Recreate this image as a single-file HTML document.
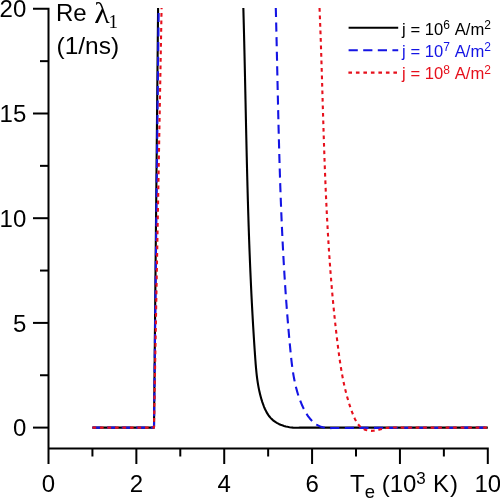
<!DOCTYPE html>
<html><head><meta charset="utf-8"><style>
html,body{margin:0;padding:0;background:#fff;}
body{width:500px;height:502px;overflow:hidden;}
svg{display:block;}
text{font-family:"Liberation Sans",Arial,sans-serif;}
</style></head><body>
<svg width="500" height="502" viewBox="0 0 500 502">
<defs><clipPath id="c"><rect x="49" y="8.0" width="445" height="440"/></clipPath></defs>
<g fill="none" stroke-linejoin="round" stroke-width="2.1" clip-path="url(#c)">
<path d="M92.43,427.60 L154.00,427.60 L158.10,7.00" stroke="#000"/>
<path d="M243.34,7.97 L243.39,9.76 L243.44,11.56 L243.49,13.35 L243.53,15.14 L243.58,16.93 L243.63,18.73 L243.68,20.52 L243.72,22.31 L243.77,24.10 L243.82,25.89 L243.86,27.68 L243.91,29.47 L243.95,31.27 L244.00,33.06 L244.04,34.85 L244.09,36.64 L244.13,38.43 L244.17,40.22 L244.22,42.01 L244.26,43.80 L244.30,45.59 L244.34,47.38 L244.38,49.17 L244.43,50.96 L244.47,52.75 L244.51,54.53 L244.55,56.32 L244.59,58.11 L244.63,59.90 L244.67,61.69 L244.71,63.48 L244.75,65.27 L244.79,67.06 L244.83,68.84 L244.87,70.63 L244.91,72.42 L244.95,74.21 L244.99,75.99 L245.02,77.78 L245.06,79.57 L245.10,81.36 L245.14,83.14 L245.18,84.93 L245.22,86.72 L245.25,88.51 L245.29,90.29 L245.33,92.08 L245.37,93.87 L245.41,95.65 L245.44,97.44 L245.48,99.23 L245.52,101.01 L245.56,102.80 L245.60,104.59 L245.63,106.37 L245.67,108.16 L245.71,109.94 L245.75,111.73 L245.79,113.52 L245.82,115.30 L245.86,117.09 L245.90,118.87 L245.94,120.66 L245.98,122.44 L246.01,124.23 L246.05,126.01 L246.09,127.80 L246.13,129.58 L246.17,131.37 L246.21,133.16 L246.25,134.94 L246.29,136.73 L246.33,138.51 L246.37,140.30 L246.41,142.08 L246.45,143.86 L246.49,145.65 L246.53,147.43 L246.57,149.22 L246.61,151.00 L246.65,152.79 L246.69,154.57 L246.73,156.36 L246.78,158.14 L246.82,159.93 L246.86,161.71 L246.90,163.50 L246.95,165.28 L246.99,167.06 L247.03,168.85 L247.08,170.63 L247.12,172.42 L247.17,174.20 L247.21,175.99 L247.26,177.77 L247.30,179.55 L247.35,181.34 L247.40,183.12 L247.44,184.91 L247.49,186.69 L247.54,188.48 L247.59,190.26 L247.63,192.04 L247.68,193.83 L247.73,195.61 L247.78,197.40 L247.83,199.18 L247.88,200.97 L247.94,202.75 L247.99,204.53 L248.04,206.32 L248.09,208.10 L248.15,209.89 L248.20,211.67 L248.26,213.46 L248.31,215.24 L248.37,217.02 L248.42,218.81 L248.48,220.59 L248.54,222.38 L248.59,224.16 L248.65,225.95 L248.71,227.73 L248.77,229.52 L248.83,231.30 L248.89,233.08 L248.95,234.87 L249.02,236.65 L249.08,238.44 L249.14,240.22 L249.21,242.01 L249.27,243.79 L249.34,245.58 L249.40,247.36 L249.47,249.15 L249.54,250.93 L249.61,252.72 L249.68,254.50 L249.75,256.29 L249.82,258.08 L249.89,259.86 L249.96,261.65 L250.03,263.43 L250.11,265.22 L250.18,267.00 L250.26,268.79 L250.33,270.57 L250.41,272.36 L250.49,274.15 L250.57,275.93 L250.65,277.72 L250.73,279.50 L250.81,281.29 L250.89,283.08 L250.97,284.86 L251.06,286.65 L251.14,288.44 L251.23,290.22 L251.31,292.01 L251.40,293.80 L251.49,295.58 L251.58,297.37 L251.67,299.16 L251.76,300.95 L251.85,302.73 L251.95,304.52 L252.04,306.31 L252.14,308.10 L252.23,309.88 L252.33,311.67 L252.43,313.46 L252.53,315.25 L252.63,317.04 L252.73,318.83 L252.83,320.61 L252.93,322.40 L253.04,324.19 L253.14,325.98 L253.25,327.77 L253.36,329.56 L253.47,331.35 L253.58,333.14 L253.69,334.93 L253.80,336.72 L253.92,338.51 L254.03,340.30 L254.15,342.09 L254.26,343.88 L254.38,345.67 L254.50,347.46 L254.62,349.25 L254.74,351.04 L254.87,352.83 L254.99,354.62 L255.12,356.41 L255.24,358.20 L255.37,360.00 L255.51,361.79 L255.64,363.58 L255.79,365.36 L255.94,367.15 L256.10,368.94 L256.27,370.72 L256.45,372.50 L256.65,374.28 L256.85,376.05 L257.07,377.82 L257.31,379.59 L257.56,381.35 L257.83,383.11 L258.12,384.87 L258.43,386.62 L258.76,388.36 L259.12,390.10 L259.50,391.83 L259.90,393.56 L260.33,395.27 L260.79,396.99 L261.27,398.69 L261.79,400.39 L262.33,402.08 L262.91,403.76 L263.52,405.43 L264.17,407.09 L264.87,408.72 L265.62,410.32 L266.42,411.88 L267.29,413.40 L268.24,414.87 L269.25,416.28 L270.35,417.62 L271.54,418.88 L272.83,420.06 L274.21,421.16 L275.69,422.17 L277.24,423.09 L278.86,423.93 L280.54,424.68 L282.27,425.35 L284.04,425.93 L285.83,426.42 L287.65,426.84 L289.47,427.18 L291.28,427.44 L293.09,427.62 L294.86,427.72 L296.60,427.75 L298.29,427.71 L299.93,427.60 L487.80,427.60" stroke="#000"/>
<path d="M92.43,427.60 L154.00,427.60 L158.70,7.00" stroke="#1414e4" stroke-dasharray="9.1 5.5"/>
<path d="M275.79,7.95 L275.84,9.73 L275.89,11.50 L275.93,13.28 L275.98,15.05 L276.02,16.83 L276.07,18.60 L276.11,20.37 L276.15,22.15 L276.20,23.92 L276.24,25.69 L276.28,27.47 L276.32,29.24 L276.37,31.01 L276.41,32.78 L276.45,34.56 L276.49,36.33 L276.53,38.10 L276.57,39.87 L276.62,41.64 L276.66,43.41 L276.70,45.18 L276.74,46.95 L276.78,48.72 L276.82,50.49 L276.86,52.26 L276.90,54.03 L276.94,55.80 L276.98,57.57 L277.02,59.34 L277.06,61.11 L277.09,62.88 L277.13,64.65 L277.17,66.42 L277.21,68.18 L277.25,69.95 L277.29,71.72 L277.33,73.49 L277.37,75.26 L277.41,77.02 L277.45,78.79 L277.49,80.56 L277.52,82.32 L277.56,84.09 L277.60,85.86 L277.64,87.63 L277.68,89.39 L277.72,91.16 L277.76,92.92 L277.80,94.69 L277.84,96.46 L277.88,98.22 L277.92,99.99 L277.96,101.75 L278.00,103.52 L278.04,105.28 L278.08,107.05 L278.12,108.81 L278.17,110.58 L278.21,112.34 L278.25,114.11 L278.29,115.87 L278.33,117.64 L278.38,119.40 L278.42,121.17 L278.46,122.93 L278.51,124.69 L278.55,126.46 L278.59,128.22 L278.64,129.98 L278.68,131.75 L278.73,133.51 L278.77,135.28 L278.82,137.04 L278.87,138.80 L278.91,140.57 L278.96,142.33 L279.01,144.09 L279.05,145.85 L279.10,147.62 L279.15,149.38 L279.20,151.14 L279.25,152.91 L279.30,154.67 L279.35,156.43 L279.40,158.19 L279.45,159.96 L279.51,161.72 L279.56,163.48 L279.61,165.24 L279.67,167.01 L279.72,168.77 L279.78,170.53 L279.83,172.29 L279.89,174.05 L279.95,175.82 L280.00,177.58 L280.06,179.34 L280.12,181.10 L280.18,182.86 L280.24,184.63 L280.30,186.39 L280.36,188.15 L280.42,189.91 L280.49,191.67 L280.55,193.43 L280.62,195.20 L280.68,196.96 L280.75,198.72 L280.81,200.48 L280.88,202.24 L280.95,204.01 L281.02,205.77 L281.09,207.53 L281.16,209.29 L281.23,211.05 L281.30,212.81 L281.37,214.58 L281.45,216.34 L281.52,218.10 L281.60,219.86 L281.68,221.62 L281.75,223.39 L281.83,225.15 L281.91,226.91 L281.99,228.67 L282.07,230.43 L282.16,232.20 L282.24,233.96 L282.32,235.72 L282.41,237.48 L282.49,239.24 L282.58,241.01 L282.67,242.77 L282.76,244.53 L282.85,246.29 L282.94,248.06 L283.03,249.82 L283.13,251.58 L283.22,253.34 L283.32,255.11 L283.41,256.87 L283.51,258.63 L283.61,260.39 L283.71,262.16 L283.81,263.92 L283.91,265.68 L284.02,267.45 L284.12,269.21 L284.23,270.97 L284.34,272.74 L284.44,274.50 L284.55,276.26 L284.67,278.03 L284.78,279.79 L284.89,281.55 L285.01,283.32 L285.12,285.08 L285.24,286.85 L285.36,288.61 L285.48,290.38 L285.60,292.14 L285.72,293.90 L285.85,295.67 L285.97,297.43 L286.10,299.20 L286.23,300.96 L286.35,302.73 L286.49,304.49 L286.62,306.26 L286.75,308.03 L286.89,309.79 L287.02,311.56 L287.16,313.32 L287.30,315.09 L287.44,316.86 L287.58,318.62 L287.73,320.39 L287.87,322.16 L288.02,323.92 L288.17,325.69 L288.32,327.46 L288.47,329.22 L288.62,330.99 L288.78,332.76 L288.93,334.53 L289.09,336.29 L289.25,338.06 L289.41,339.83 L289.57,341.60 L289.74,343.37 L289.91,345.14 L290.07,346.90 L290.24,348.67 L290.41,350.44 L290.59,352.21 L290.76,353.98 L290.94,355.75 L291.13,357.52 L291.32,359.28 L291.52,361.05 L291.73,362.81 L291.94,364.57 L292.17,366.33 L292.40,368.09 L292.65,369.84 L292.91,371.59 L293.19,373.34 L293.47,375.08 L293.78,376.82 L294.10,378.56 L294.44,380.29 L294.79,382.01 L295.17,383.73 L295.56,385.45 L295.98,387.15 L296.41,388.86 L296.87,390.55 L297.36,392.24 L297.87,393.93 L298.40,395.60 L298.96,397.27 L299.55,398.93 L300.17,400.58 L300.82,402.23 L301.50,403.86 L302.21,405.49 L302.95,407.11 L303.72,408.71 L304.53,410.29 L305.39,411.85 L306.28,413.37 L307.21,414.86 L308.20,416.30 L309.23,417.69 L310.31,419.01 L311.45,420.28 L312.64,421.47 L313.89,422.59 L315.20,423.62 L316.57,424.57 L318.01,425.42 L319.52,426.16 L321.09,426.80 L322.74,427.32 L324.47,427.71 L326.27,427.99 L328.16,428.12 L330.12,428.12 L332.17,427.97 L487.80,427.60" stroke="#1414e4" stroke-dasharray="9.1 5.5"/>
<path d="M92.43,427.60 L154.00,427.60 L161.60,7.00" stroke="#e6101c" stroke-dasharray="3.7 3.8"/>
<path d="M319.53,8.00 L319.61,9.88 L319.69,11.77 L319.76,13.66 L319.84,15.54 L319.91,17.43 L319.99,19.32 L320.06,21.20 L320.13,23.09 L320.20,24.98 L320.27,26.86 L320.34,28.75 L320.41,30.64 L320.48,32.52 L320.55,34.41 L320.61,36.30 L320.68,38.18 L320.75,40.07 L320.81,41.96 L320.88,43.85 L320.94,45.73 L321.00,47.62 L321.06,49.51 L321.13,51.39 L321.19,53.28 L321.25,55.17 L321.31,57.05 L321.37,58.94 L321.43,60.83 L321.49,62.72 L321.55,64.60 L321.61,66.49 L321.67,68.38 L321.73,70.26 L321.78,72.15 L321.84,74.04 L321.90,75.92 L321.96,77.81 L322.01,79.70 L322.07,81.59 L322.13,83.47 L322.18,85.36 L322.24,87.25 L322.30,89.13 L322.35,91.02 L322.41,92.91 L322.47,94.79 L322.52,96.68 L322.58,98.57 L322.64,100.46 L322.69,102.34 L322.75,104.23 L322.80,106.12 L322.86,108.00 L322.92,109.89 L322.97,111.78 L323.03,113.66 L323.09,115.55 L323.15,117.44 L323.20,119.32 L323.26,121.21 L323.32,123.10 L323.38,124.98 L323.44,126.87 L323.50,128.76 L323.56,130.64 L323.62,132.53 L323.68,134.42 L323.74,136.30 L323.80,138.19 L323.86,140.07 L323.92,141.96 L323.98,143.85 L324.05,145.73 L324.11,147.62 L324.17,149.51 L324.24,151.39 L324.30,153.28 L324.37,155.16 L324.44,157.05 L324.50,158.94 L324.57,160.82 L324.64,162.71 L324.71,164.59 L324.78,166.48 L324.85,168.37 L324.92,170.25 L324.99,172.14 L325.07,174.02 L325.14,175.91 L325.22,177.79 L325.29,179.68 L325.37,181.56 L325.45,183.45 L325.52,185.34 L325.60,187.22 L325.68,189.11 L325.77,190.99 L325.85,192.88 L325.93,194.76 L326.02,196.65 L326.10,198.53 L326.19,200.42 L326.28,202.30 L326.37,204.19 L326.46,206.07 L326.55,207.95 L326.64,209.84 L326.73,211.72 L326.83,213.61 L326.93,215.49 L327.02,217.38 L327.12,219.26 L327.22,221.14 L327.32,223.03 L327.43,224.91 L327.53,226.80 L327.64,228.68 L327.74,230.56 L327.85,232.45 L327.96,234.33 L328.07,236.22 L328.19,238.10 L328.30,239.98 L328.42,241.87 L328.54,243.75 L328.66,245.63 L328.78,247.51 L328.90,249.40 L329.02,251.28 L329.15,253.16 L329.28,255.05 L329.41,256.93 L329.54,258.81 L329.67,260.69 L329.80,262.58 L329.94,264.46 L330.08,266.34 L330.22,268.22 L330.36,270.10 L330.51,271.99 L330.65,273.87 L330.80,275.75 L330.95,277.63 L331.10,279.51 L331.25,281.39 L331.41,283.27 L331.57,285.16 L331.73,287.04 L331.89,288.92 L332.05,290.80 L332.22,292.68 L332.38,294.56 L332.55,296.44 L332.73,298.32 L332.90,300.20 L333.08,302.08 L333.26,303.96 L333.44,305.84 L333.62,307.72 L333.81,309.60 L333.99,311.48 L334.19,313.36 L334.38,315.24 L334.57,317.12 L334.77,319.00 L334.97,320.88 L335.17,322.76 L335.38,324.64 L335.58,326.51 L335.79,328.39 L336.01,330.27 L336.22,332.15 L336.44,334.03 L336.66,335.91 L336.88,337.78 L337.10,339.66 L337.33,341.54 L337.56,343.42 L337.80,345.29 L338.03,347.17 L338.27,349.05 L338.51,350.92 L338.76,352.80 L339.01,354.67 L339.27,356.55 L339.53,358.42 L339.80,360.29 L340.07,362.16 L340.35,364.02 L340.64,365.89 L340.94,367.75 L341.24,369.61 L341.56,371.46 L341.88,373.32 L342.22,375.16 L342.56,377.01 L342.92,378.85 L343.28,380.69 L343.66,382.52 L344.05,384.35 L344.46,386.17 L344.87,387.99 L345.30,389.80 L345.75,391.61 L346.21,393.42 L346.69,395.22 L347.18,397.02 L347.70,398.82 L348.23,400.63 L348.78,402.44 L349.35,404.25 L349.95,406.07 L350.57,407.90 L351.21,409.74 L351.88,411.59 L352.58,413.45 L353.31,415.30 L354.08,417.12 L354.91,418.90 L355.80,420.62 L356.75,422.26 L357.78,423.80 L358.90,425.23 L360.11,426.52 L361.42,427.67 L362.85,428.65 L364.39,429.44 L366.04,430.05 L367.77,430.47 L369.57,430.73 L371.42,430.83 L373.30,430.78 L375.17,430.59 L377.04,430.26 L378.88,429.82 L380.70,429.32 L382.51,428.83 L384.33,428.41 L386.17,428.08 L388.02,427.83 L389.87,427.66 L391.74,427.54 L393.62,427.48 L395.50,427.46 L397.40,427.47 L399.30,427.51 L401.20,427.56 L403.11,427.61 L405.02,427.66 L487.80,427.60" stroke="#e6101c" stroke-dasharray="3.7 3.8"/>
</g>
<g stroke="#000" stroke-width="2" fill="none">
<polyline points="33,8.80 48.5,8.80 48.5,464"/>
<polyline points="48.5,448.6 487.8,448.6 487.8,464"/>
<line x1="33" y1="427.60" x2="48.5" y2="427.60"/><line x1="33" y1="322.90" x2="48.5" y2="322.90"/><line x1="33" y1="218.20" x2="48.5" y2="218.20"/><line x1="33" y1="113.50" x2="48.5" y2="113.50"/><line x1="40" y1="375.25" x2="48.5" y2="375.25"/><line x1="40" y1="270.55" x2="48.5" y2="270.55"/><line x1="40" y1="165.85" x2="48.5" y2="165.85"/><line x1="40" y1="61.15" x2="48.5" y2="61.15"/><line x1="136.36" y1="448.6" x2="136.36" y2="464"/><line x1="224.22" y1="448.6" x2="224.22" y2="464"/><line x1="312.08" y1="448.6" x2="312.08" y2="464"/><line x1="399.94" y1="448.6" x2="399.94" y2="464"/><line x1="92.43" y1="448.6" x2="92.43" y2="456.5"/><line x1="180.29" y1="448.6" x2="180.29" y2="456.5"/><line x1="268.15" y1="448.6" x2="268.15" y2="456.5"/><line x1="356.01" y1="448.6" x2="356.01" y2="456.5"/><line x1="443.87" y1="448.6" x2="443.87" y2="456.5"/>
</g>
<g font-size="24" fill="#000">
<text x="26.3" y="436.20" text-anchor="end">0</text><text x="26.3" y="331.50" text-anchor="end">5</text><text x="26.3" y="226.80" text-anchor="end">10</text><text x="26.3" y="122.10" text-anchor="end">15</text><text x="26.3" y="17.40" text-anchor="end">20</text>
<text x="48.50" y="492.2" text-anchor="middle">0</text><text x="136.36" y="492.2" text-anchor="middle">2</text><text x="224.22" y="492.2" text-anchor="middle">4</text><text x="312.08" y="492.2" text-anchor="middle">6</text><text x="487.80" y="492.2" text-anchor="middle">10</text>
</g>
<text x="56" y="21" font-size="24">Re</text>
<text style="font-family:'Liberation Serif',serif" font-size="29" transform="translate(94.2,22.8) scale(1.1,1)">λ</text>
<text x="108.4" y="27.9" style="font-family:'Liberation Serif',serif" font-size="19">1</text>
<text x="56.5" y="54" font-size="24.5">(1/ns)</text>
<text x="350" y="491.8" font-size="24">T<tspan font-size="18.5" dy="5.8">e</tspan><tspan dy="-5.8"> (10</tspan><tspan font-size="17" dy="-7.8">3</tspan><tspan dy="7.8" dx="0.5"> K</tspan><tspan dx="1">)</tspan></text>
<g stroke-width="2.1" fill="none">
<line x1="348.6" y1="27.8" x2="398.2" y2="27.8" stroke="#000"/>
<line x1="348.6" y1="50.2" x2="398.2" y2="50.2" stroke="#1414e4" stroke-dasharray="9.2 5.4"/>
<line x1="348.4" y1="72.6" x2="398.2" y2="72.6" stroke="#e6101c" stroke-dasharray="3.6 3.9"/>
</g>
<g font-size="16.6">
<text x="402.1" y="34.5" fill="#000">j = 10<tspan font-size="12" dy="-5.5">6</tspan><tspan dy="5.5" dx="1.2"> A/m</tspan><tspan font-size="12" dy="-5.5">2</tspan></text>
<text x="402.1" y="56.9" fill="#1414e4">j = 10<tspan font-size="12" dy="-5.5">7</tspan><tspan dy="5.5" dx="1.2"> A/m</tspan><tspan font-size="12" dy="-5.5">2</tspan></text>
<text x="402.1" y="79.3" fill="#e6101c">j = 10<tspan font-size="12" dy="-5.5">8</tspan><tspan dy="5.5" dx="1.2"> A/m</tspan><tspan font-size="12" dy="-5.5">2</tspan></text>
</g>
</svg>
</body></html>
